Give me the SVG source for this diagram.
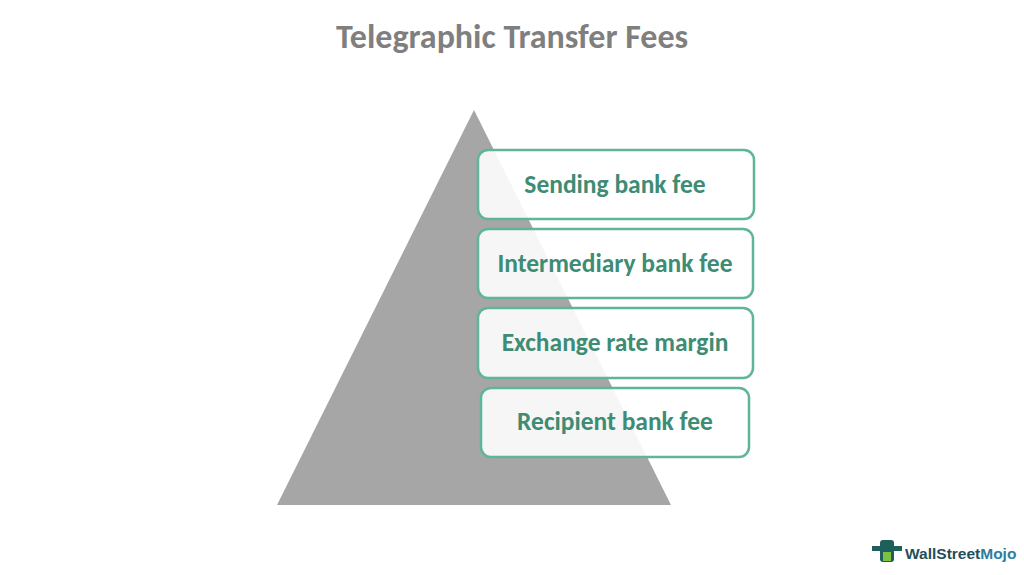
<svg xmlns="http://www.w3.org/2000/svg" width="1024" height="575" viewBox="0 0 1024 575">
<style>
.box{fill:#ffffff;fill-opacity:0.9;stroke:#5fb59b;stroke-width:2.5}
.lbl{font-family:Calibri,"Liberation Sans",sans-serif;font-weight:bold;font-size:25.5px;fill:#3e8c74;text-anchor:middle}
</style>
<rect width="1024" height="575" fill="#ffffff"/>
<text x="512" y="48" font-family="Calibri,'Liberation Sans',sans-serif" font-weight="bold" font-size="34" fill="#7f7f7f" text-anchor="middle">Telegraphic Transfer Fees</text>
<g id="pyramid"><polygon points="474,110 277,505 671,505" fill="#a6a6a6"/></g>
<g id="connectors"></g>
<g id="n1"><rect class="box" x="478" y="150" width="276" height="69" rx="10"/><text class="lbl" x="615" y="193">Sending bank fee</text></g>
<g id="n2"><rect class="box" x="478" y="229" width="275" height="69" rx="10"/><text class="lbl" x="615" y="272">Intermediary bank fee</text></g>
<g id="n3"><rect class="box" x="478" y="308" width="275" height="70" rx="10"/><text class="lbl" x="615" y="351">Exchange rate margin</text></g>
<g id="n4"><rect class="box" x="481" y="388" width="268" height="69" rx="10"/><text class="lbl" x="615" y="430">Recipient bank fee</text></g>
<g id="logo">
<rect x="880" y="540" width="14" height="22" rx="3" fill="#1f5f5b"/>
<rect x="883" y="552" width="8" height="9" fill="#7cc242"/>
<rect x="872" y="546" width="8" height="5" fill="#1f5f5b"/>
<rect x="894" y="546" width="8" height="5" fill="#1f5f5b"/>
<text x="905" y="559" font-family="'Liberation Sans',sans-serif" font-weight="bold" font-size="15.5" fill="#1f4f5a">WallStreet<tspan fill="#2a7fa0">Mojo</tspan></text>
</g>
</svg>
